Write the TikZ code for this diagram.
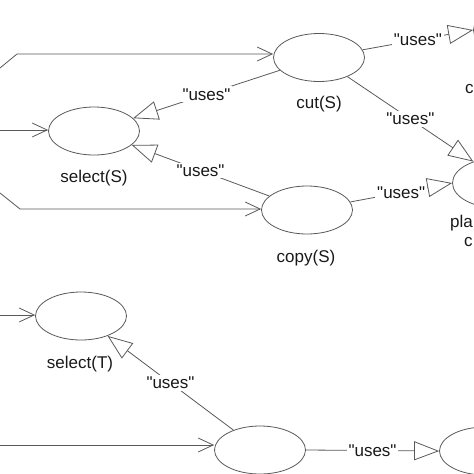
\documentclass[tikz,border=0pt]{standalone}
\usepackage{fontspec}
\newfontfamily\umlfont{Liberation Sans}
\usetikzlibrary{arrows.meta,shapes.geometric}
\begin{document}
\begin{tikzpicture}[x=1pt,y=-1pt,
  font=\umlfont\fontsize{17}{19}\selectfont,
  ln/.style={draw=black!65,line width=0.8pt},
  usecase/.style={ellipse,draw=black!65,line width=0.8pt,minimum width=91pt,minimum height=48pt,inner sep=0pt},
  call/.style={ln,-{Straight Barb[length=15pt,width=14pt,line width=0.8pt]}},
  uses/.style={ln,-{Triangle[open,length=25pt,width=19pt,line width=0.8pt]}},
  lbl/.style={fill=white,inner sep=2pt,text=black!90},
  captxt/.style={anchor=base,text=black!90,inner sep=0pt}]
\useasboundingbox (0,0) rectangle (474,474);
\clip (0,0) rectangle (474,474);

% use cases
\node[usecase] (selS) at (94,131) {};
\node[usecase] (cutS) at (319,57.5) {};
\node[usecase] (copyS) at (307,210) {};
\node[usecase] (selT) at (81,316) {};
\node[usecase] (botM) at (260,450) {};
\node[usecase] (TR) at (519,30) {};
\node[usecase,minimum height=50pt] (paste) at (498,183) {};
\node[usecase] (BR) at (485,451) {};

% captions
\node[captxt] (cselS) at (94,182) {select(S)};
\node[captxt] (ccutS) at (319,108) {cut(S)};
\node[captxt] (ccopyS) at (306,262) {copy(S)};
\node[captxt] (cselT) at (80,368) {select(T)};
\node[captxt,anchor=base west] (cTR) at (465,93) {c};
\node[captxt,anchor=base west] (cpaste1) at (450,227) {pla};
\node[captxt,anchor=base west] (cpaste2) at (464,246) {c};

% incoming calls from the left
\coordinate (s1) at (0,68);
\coordinate (k1) at (17,54);
\coordinate (s2) at (0,130);
\coordinate (s3) at (0,193);
\coordinate (k3) at (20,209);
\coordinate (s4) at (0,315);
\coordinate (s5) at (0,445);
\draw[call] (s1) -- (k1) -- (cutS.west |- k1);
\draw[call] (s2) -- (selS.west |- s2);
\draw[call] (s3) -- (k3) -- (copyS.west |- k3);
\draw[call] (s4) -- (selT.west |- s4);
\draw[call] (s5) -- (botM.west |- s5);

% uses relations
\draw[uses] (cutS) -- node[lbl] {"uses"} (selS);
\draw[uses] (copyS) -- node[lbl] {"uses"} (selS);
\draw[uses] (cutS.10) -- node[lbl] {"uses"} (TR.west);
\draw[uses] (cutS) -- node[lbl] {"uses"} (paste.139);
\draw[uses] (copyS) -- node[lbl] {"uses"} (paste.west);
\draw[uses] (botM) -- node[lbl] {"uses"} (selT);
\draw[uses] (botM.east) -- node[lbl] {"uses"} (BR.west);
\end{tikzpicture}
\end{document}
